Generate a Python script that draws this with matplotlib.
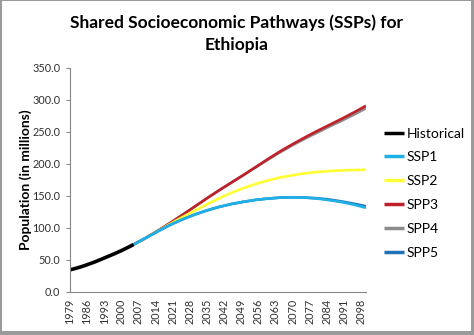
import numpy as np
import matplotlib.pyplot as plt
from matplotlib.patches import Rectangle

plt.rcParams['font.family'] = ['Lato', 'DejaVu Sans']

# Historical population (millions), yearly 1979-2005
hist_years = list(range(1979, 2006))
hist_pop = [34.5, 35.6, 36.6, 37.7, 38.8, 40.0, 41.3, 42.6, 44.0, 45.4,
            46.8, 48.3, 49.9, 51.5, 53.1, 54.7, 56.3, 57.9, 59.5, 61.2,
            62.9, 64.7, 66.5, 68.4, 70.3, 72.2, 74.2]

# SSP projections (millions), 5-yearly 2005-2100
ssp_years = list(range(2005, 2101, 5))
ssp1 = [74.2, 84.5, 95.0, 105.0, 113.5, 121.0, 127.5, 133.0, 137.5, 141.0,
        144.0, 146.0, 147.5, 148.0, 147.5, 146.0, 143.5, 140.5, 136.5, 131.5]
ssp2 = [74.2, 84.5, 95.5, 106.5, 117.0, 127.0, 137.0, 146.5, 155.0, 162.5,
        169.0, 174.5, 179.0, 182.5, 185.5, 187.5, 189.0, 190.0, 190.5, 191.0]
ssp3 = [74.2, 84.5, 96.0, 108.0, 120.5, 133.5, 146.5, 159.0, 171.0, 183.0,
        195.5, 208.0, 220.0, 231.0, 241.5, 251.5, 261.0, 270.5, 280.5, 291.0]
ssp4 = [74.2, 84.5, 96.0, 108.0, 120.5, 133.5, 146.5, 159.0, 171.0, 183.0,
        195.0, 207.0, 218.5, 229.5, 239.5, 249.0, 258.5, 267.5, 277.0, 287.0]
ssp5 = [74.2, 84.5, 95.0, 105.0, 113.5, 121.0, 127.5, 133.0, 137.5, 141.0,
        144.0, 146.0, 147.5, 148.0, 147.5, 146.5, 144.5, 141.5, 138.0, 134.0]

series = [
    ("Historical", hist_years, hist_pop, "black"),
    ("SSP1", ssp_years, ssp1, "#1fb0e8"),
    ("SSP2", ssp_years, ssp2, "#ffff33"),
    ("SPP3", ssp_years, ssp3, "#c0202a"),
    ("SPP4", ssp_years, ssp4, "#8c8c8c"),
    ("SPP5", ssp_years, ssp5, "#1f72b8"),
]

fig = plt.figure(figsize=(4.74, 3.35), dpi=100)
fig.patch.set_facecolor('#9a9a9a')
fig.patches.append(Rectangle((2 / 474, 4 / 335), 469 / 474, 330 / 335,
                             transform=fig.transFigure, facecolor='white',
                             edgecolor='none', zorder=-10))

ax = fig.add_axes([70 / 474, 43 / 335, 296 / 474, 224 / 335])
ax.set_facecolor('white')

# draw order so SSP1/SSP5 and SPP3/SPP4 overlap like the source
order = [4, 3, 2, 5, 1, 0]
handles = {}
for i in order:
    name, xs, ys, col = series[i]
    lw = 2.6 if name == "Historical" else 1.9
    handles[name], = ax.plot(xs, ys, color=col, lw=lw, label=name,
                             solid_capstyle='butt')

ax.set_xlim(1979, 2100)
ax.set_ylim(0, 350)
ax.set_yticks(np.arange(0, 351, 50))
ax.set_yticklabels([f"{v:.1f}" for v in np.arange(0, 351, 50)])
ax.set_xticks(range(1979, 2100, 7))
ax.tick_params(axis='x', rotation=90, length=0, pad=5)
ax.tick_params(axis='y', length=3, color='#868686', pad=4)
ax.tick_params(labelsize=7.8, labelcolor='#303030')

for side in ['top', 'right']:
    ax.spines[side].set_visible(False)
for side in ['left', 'bottom']:
    ax.spines[side].set_color('#868686')

ax.set_ylabel('Population (in millions)', fontsize=10, fontweight='bold')
ax.yaxis.set_label_coords(-0.13, 0.5)

fig.text(0.5, 0.90, 'Shared Socioeconomic Pathways (SSPs) for\nEthiopia',
         ha='center', va='center', fontsize=12.5, fontweight='bold',
         linespacing=1.45)

names = [s[0] for s in series]
leg = fig.legend([handles[n] for n in names], names,
                 loc='upper left', bbox_to_anchor=(378 / 474, 1 - 122 / 335),
                 frameon=False, fontsize=10, handlelength=1.5,
                 handletextpad=0.15, labelspacing=0.85, borderaxespad=0)
for line in leg.get_lines():
    line.set_linewidth(2.5)

fig.savefig('out.png', dpi=100, facecolor=fig.get_facecolor())
